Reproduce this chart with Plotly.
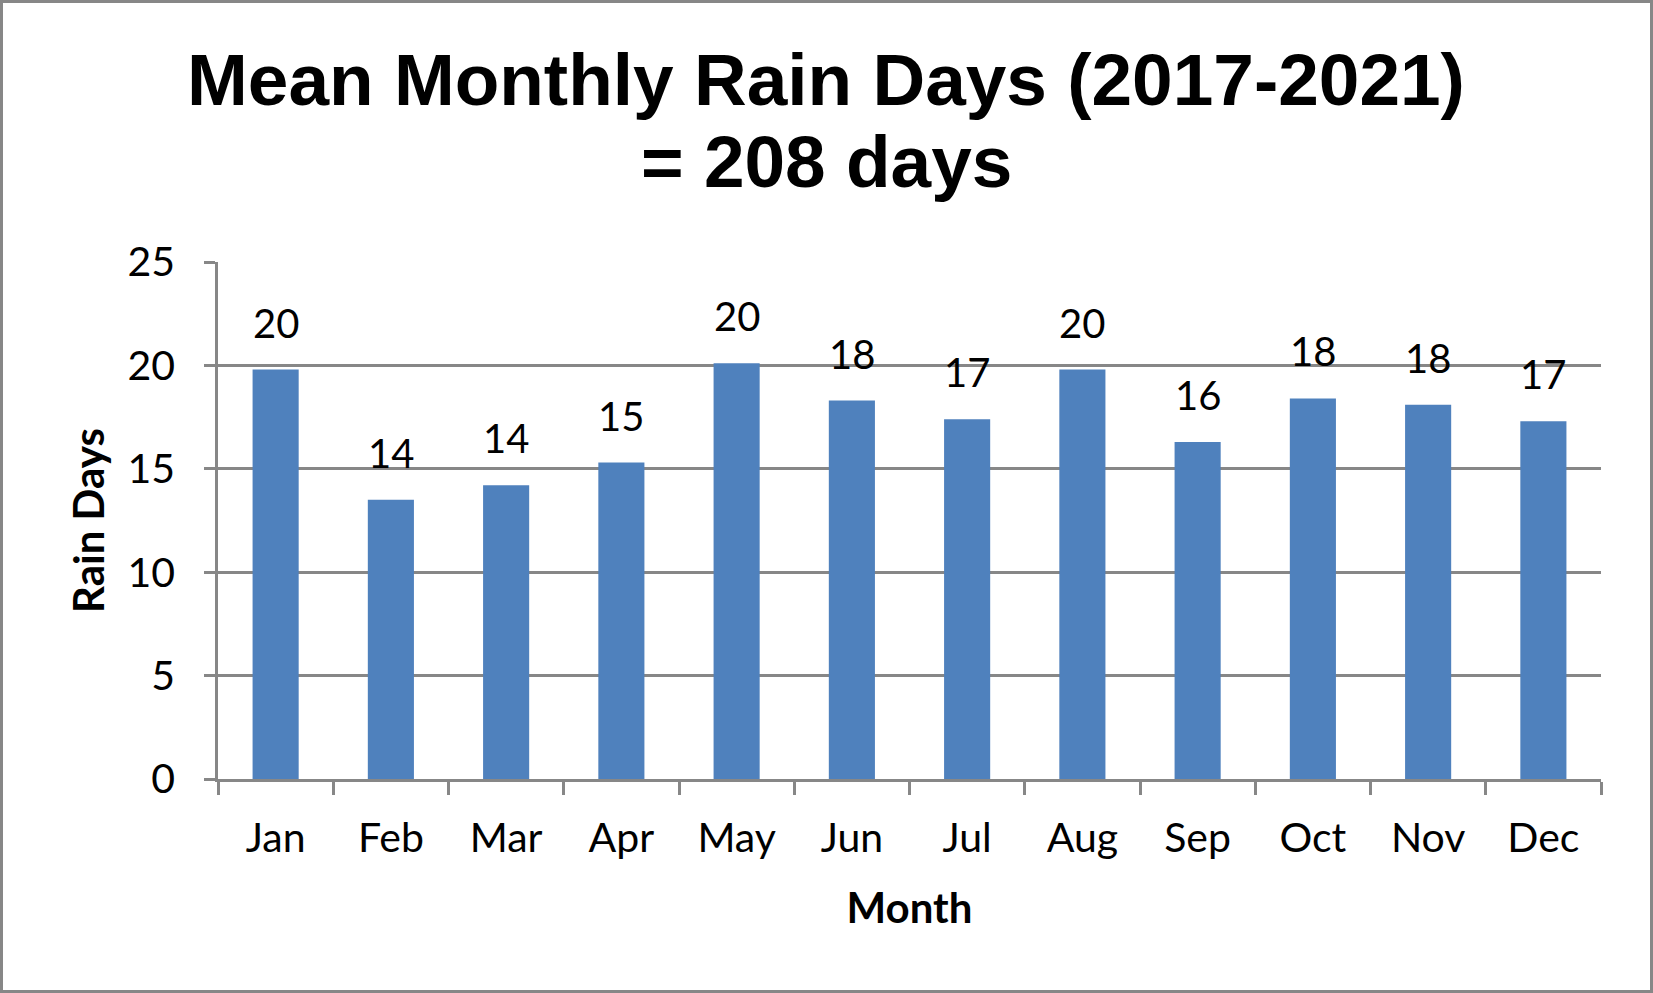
import plotly.graph_objects as go

# ---- data ----
months = ["Jan", "Feb", "Mar", "Apr", "May", "Jun", "Jul", "Aug", "Sep", "Oct", "Nov", "Dec"]
rain_days = [19.8, 13.5, 14.2, 15.3, 20.1, 18.3, 17.4, 19.8, 16.3, 18.4, 18.1, 17.3]
bar_labels = [str(int(v + 0.5)) for v in rain_days]
y_ticks = [0, 5, 10, 15, 20, 25]
title_line1 = "Mean Monthly Rain Days (2017-2021)"
title_line2 = "= 208 days"
x_title = "Month"
y_title = "Rain Days"

# ---- layout geometry ----
W, H = 1653, 993
ML, MR, MT, MB = 218, 52, 262, 214
PW, PH = W - ML - MR, H - MT - MB


def px_x(p):
    return (p - ML) / PW


def px_y(q):
    return (H - MB - q) / PH


GRAY = "#878787"
BAR = "#4F81BD"
TICK_FONT = dict(family="Lato, 'Open Sans', sans-serif", size=41, color="black")
LABEL_FONT = dict(family="Lato, 'Open Sans', sans-serif", size=40, color="black")
AX_TITLE_FONT = dict(family="Lato, 'Open Sans', sans-serif", size=42, color="black", weight="bold")
TITLE_FONT = dict(family="'Liberation Sans', Arial, sans-serif", size=73, color="black", weight="bold")

fig = go.Figure()
fig.add_trace(go.Bar(
    x=months, y=rain_days, width=0.4,
    marker=dict(color=BAR, line=dict(width=0)),
    hoverinfo="x+y",
))

for m, v, t in zip(months, rain_days, bar_labels):
    fig.add_annotation(x=m, y=v, text=t, showarrow=False, xanchor="center",
                       yanchor="middle", yshift=47, font=LABEL_FONT)

fig.add_annotation(xref="paper", yref="paper", x=px_x(826), y=px_y(79),
                   text="<b>" + title_line1 + "</b>", showarrow=False,
                   xanchor="center", yanchor="middle", font=TITLE_FONT)
fig.add_annotation(xref="paper", yref="paper", x=px_x(826), y=px_y(162),
                   text="<b>" + title_line2 + "</b>", showarrow=False,
                   xanchor="center", yanchor="middle", font=TITLE_FONT)

# outer frame
fig.add_shape(type="rect", xref="paper", yref="paper",
              x0=px_x(1.5), x1=px_x(W - 1.5), y0=px_y(H - 1.5), y1=px_y(1.5),
              line=dict(color=GRAY, width=3), fillcolor="rgba(0,0,0,0)", layer="below")

fig.update_layout(
    width=W, height=H,
    margin=dict(l=ML, r=MR, t=MT, b=MB, pad=0),
    paper_bgcolor="white", plot_bgcolor="white",
    showlegend=False,
    bargap=0.6,
)
fig.update_xaxes(
    type="category",
    showline=True, linecolor=GRAY, linewidth=2.5,
    ticks="outside", tickson="boundaries", ticklen=13, tickwidth=2.5, tickcolor=GRAY,
    showgrid=False, zeroline=False,
    tickfont=TICK_FONT, ticklabelstandoff=21,
    title=dict(text="<b>" + x_title + "</b>", font=AX_TITLE_FONT, standoff=34),
)
fig.update_yaxes(
    range=[0, 25], tickvals=y_ticks,
    showline=True, linecolor=GRAY, linewidth=2.5,
    ticks="outside", ticklen=11, tickwidth=2.5, tickcolor=GRAY,
    showgrid=True, gridcolor=GRAY, gridwidth=2.5, zeroline=False,
    tickfont=TICK_FONT, ticklabelstandoff=21,
    title=dict(text="<b>" + y_title + "</b>", font=AX_TITLE_FONT, standoff=10),
)

fig.write_html("out.html")
